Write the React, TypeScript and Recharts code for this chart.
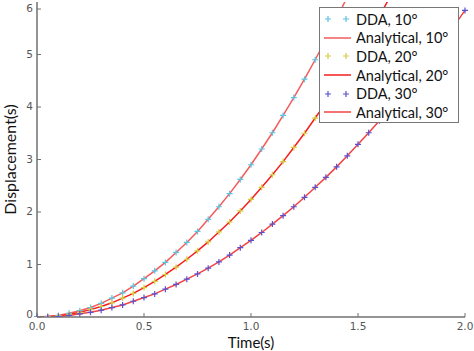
import { ComposedChart, Line, XAxis, YAxis } from 'recharts'

const times = [
  0, 0.05, 0.1, 0.15, 0.2, 0.25, 0.3, 0.35, 0.4, 0.45, 0.5, 0.55, 0.6, 0.65, 0.7, 0.75, 0.8, 0.85, 0.9, 0.95,
  1.0, 1.05, 1.1, 1.15, 1.2, 1.25, 1.3, 1.35, 1.4, 1.45, 1.5, 1.55, 1.6, 1.65, 1.7, 1.75, 1.8, 1.85, 1.9, 1.95, 2.0,
]

// one value per 0.05 s step
const disp10 = [
  0, 0.01, 0.03, 0.07, 0.12, 0.18, 0.26, 0.36, 0.46, 0.59, 0.73, 0.88, 1.04, 1.23, 1.42, 1.63, 1.86, 2.1, 2.35, 2.62,
  2.9, 3.2, 3.51, 3.84, 4.18, 4.53, 4.9, 5.29, 5.68, 6.1, 6.53,
]
const disp20 = [
  0, 0.01, 0.02, 0.05, 0.09, 0.14, 0.2, 0.27, 0.36, 0.45, 0.56, 0.68, 0.81, 0.95, 1.1, 1.26, 1.43, 1.62, 1.81, 2.02,
  2.24, 2.47, 2.71, 2.96, 3.23, 3.5, 3.79, 4.08, 4.39, 4.71, 5.04, 5.38, 5.73, 6.1, 6.47,
]
const disp30 = [
  0, 0.0, 0.01, 0.03, 0.06, 0.09, 0.13, 0.18, 0.23, 0.3, 0.37, 0.44, 0.53, 0.62, 0.72, 0.82, 0.93, 1.05, 1.18, 1.32,
  1.46, 1.61, 1.77, 1.93, 2.1, 2.28, 2.47, 2.66, 2.86, 3.07, 3.29, 3.51, 3.74, 3.97, 4.22, 4.47, 4.73, 5.0, 5.27, 5.55, 5.84,
]

const xTicks = [0, 0.5, 1.0, 1.5, 2.0]
const yTicks = [0, 1, 2, 3, 4, 5, 6]

const legendItems = [
  { label: 'DDA, 10°', kind: 'marker', color: '#5cc4e4' },
  { label: 'Analytical, 10°', kind: 'line', color: '#f25c5c' },
  { label: 'DDA, 20°', kind: 'marker', color: '#d6cc40' },
  { label: 'Analytical, 20°', kind: 'line', color: '#f51e1e' },
  { label: 'DDA, 30°', kind: 'marker', color: '#5a50d0' },
  { label: 'Analytical, 30°', kind: 'line', color: '#f04444' },
]

const data = times.map((t, i) => ({
  t,
  dda10: disp10[i],
  ana10: disp10[i],
  dda20: disp20[i],
  ana20: disp20[i],
  dda30: disp30[i],
  ana30: disp30[i],
}))

const frameColor = '#707070'
const tickText = '#555'

function plusDot(color: string) {
  return (props: any) => {
    const { cx, cy, index } = props
    if (cx == null || cy == null) return <g key={index} />
    return (
      <path
        key={index}
        d={`M${cx - 3},${cy}H${cx + 3}M${cx},${cy - 3}V${cy + 3}`}
        stroke={color}
        strokeWidth={1.2}
        fill="none"
      />
    )
  }
}

function BottomTick(props: any) {
  const { x, y, payload } = props
  return (
    <g>
      <line x1={x} x2={x} y1={y - 9} y2={y - 13} stroke={frameColor} strokeWidth={1} />
      <text x={x} y={y} dy={4} textAnchor="middle" fill={tickText} fontSize={10.5} fontFamily="'DejaVu Sans', sans-serif">
        {Number(payload.value).toFixed(1)}
      </text>
    </g>
  )
}

function LeftTick(props: any) {
  const { x, y, payload } = props
  // the "0" sits a touch higher so it clears the "0.0" under it
  const dy = payload.value === 0 ? 0.5 : 3
  return (
    <g>
      <line x1={x + 4} x2={x + 8} y1={y} y2={y} stroke={frameColor} strokeWidth={1} />
      <text x={x} y={y} dy={dy} textAnchor="end" fill={tickText} fontSize={10.5} fontFamily="'DejaVu Sans', sans-serif">
        {payload.value}
      </text>
    </g>
  )
}

function TopTick(props: any) {
  const { x, y } = props
  return <line x1={x} x2={x} y1={y} y2={y + 4} stroke={frameColor} strokeWidth={1} />
}

function RightTick(props: any) {
  const { x, y } = props
  return <line x1={x} x2={x - 4} y1={y} y2={y} stroke={frameColor} strokeWidth={1} />
}

function LegendBox() {
  return (
    <div
      style={{
        position: 'absolute',
        left: 319,
        top: 7,
        background: '#fff',
        border: '1px solid #777',
        width: 140,
        height: 116,
        boxSizing: 'border-box',
        padding: '2px 0 0 0',
        fontFamily: 'Lato, sans-serif',
        fontSize: 14.5,
        color: '#111',
      }}
    >
      {legendItems.map((it) => (
        <div key={it.label} style={{ display: 'flex', alignItems: 'center', height: 18.6 }}>
          <svg width={36} height={12} style={{ flex: 'none' }}>
            {it.kind === 'marker' ? (
              <>
                <path d="M5,6H11M8,3V9" stroke={it.color} strokeWidth={1.2} />
                <path d="M23,6H29M26,3V9" stroke={it.color} strokeWidth={1.2} />
              </>
            ) : (
              <line x1={4} x2={31} y1={6} y2={6} stroke={it.color} strokeWidth={1.5} />
            )}
          </svg>
          <span style={{ whiteSpace: 'nowrap' }}>{it.label}</span>
        </div>
      ))}
    </div>
  )
}

export default function App() {
  return (
    <div style={{ position: 'absolute', left: 0, top: 0, width: 474, height: 351, background: '#fff' }}>
      <ComposedChart width={474} height={351} data={data} margin={{ top: 2, right: 9, bottom: 0, left: 0 }}>
        <XAxis
          xAxisId={0}
          dataKey="t"
          type="number"
          domain={[0, 2]}
          ticks={xTicks}
          height={34}
          tickSize={0}
          tickMargin={9}
          axisLine={{ stroke: frameColor, strokeWidth: 1.5 }}
          tickLine={false}
          tick={<BottomTick />}
          label={{
            value: 'Time(s)',
            position: 'insideBottom',
            offset: 3.5,
            style: { fontFamily: 'Lato, sans-serif', fontSize: 15, fill: '#111' },
          }}
        />
        <XAxis
          xAxisId="top"
          dataKey="t"
          type="number"
          orientation="top"
          domain={[0, 2]}
          ticks={xTicks}
          height={0}
          tickSize={0}
          tickMargin={0}
          axisLine={{ stroke: frameColor, strokeWidth: 1.5 }}
          tickLine={false}
          tick={<TopTick />}
        />
        <YAxis
          yAxisId={0}
          type="number"
          domain={[0, 6]}
          ticks={yTicks}
          allowDataOverflow
          width={37}
          tickSize={0}
          tickMargin={4}
          axisLine={{ stroke: frameColor, strokeWidth: 1.5 }}
          tickLine={false}
          tick={<LeftTick />}
          label={{
            value: 'Displacement(s)',
            angle: -90,
            position: 'insideLeft',
            offset: 10,
            style: { textAnchor: 'middle', fontFamily: 'Lato, sans-serif', fontSize: 16, fill: '#111' },
          }}
        />
        <YAxis
          yAxisId="right"
          type="number"
          orientation="right"
          domain={[0, 6]}
          ticks={yTicks}
          width={0}
          tickSize={0}
          tickMargin={0}
          axisLine={{ stroke: frameColor, strokeWidth: 1.5 }}
          tickLine={false}
          tick={<RightTick />}
        />
        <Line dataKey="dda10" stroke="none" dot={plusDot('#5cc4e4')} isAnimationActive={false} />
        <Line dataKey="dda20" stroke="none" dot={plusDot('#d6cc40')} isAnimationActive={false} />
        <Line dataKey="dda30" stroke="none" dot={plusDot('#5a50d0')} isAnimationActive={false} />
        <Line dataKey="ana10" stroke="#f25c5c" strokeWidth={1.5} dot={false} isAnimationActive={false} type="linear" />
        <Line dataKey="ana20" stroke="#f51e1e" strokeWidth={1.5} dot={false} isAnimationActive={false} type="linear" />
        <Line dataKey="ana30" stroke="#f04444" strokeWidth={1.5} dot={false} isAnimationActive={false} type="linear" />
      </ComposedChart>
      <LegendBox />
    </div>
  )
}
